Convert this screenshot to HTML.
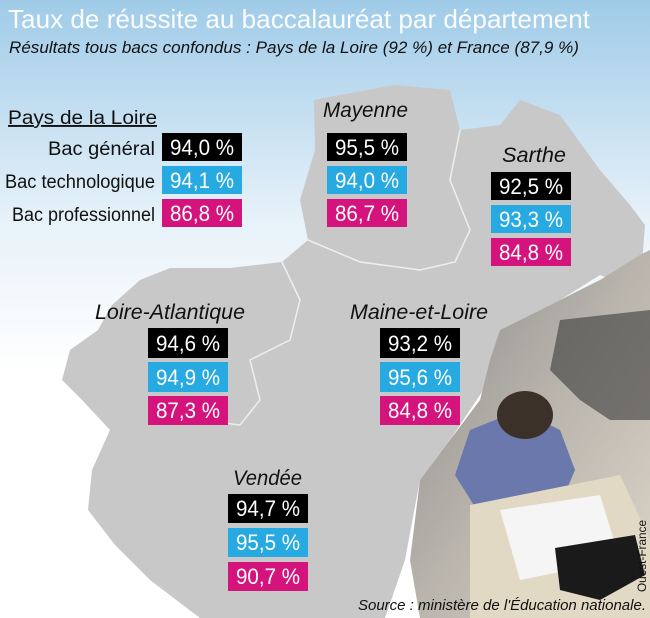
<!DOCTYPE html>
<html><head><meta charset="utf-8"><style>
body{margin:0;width:650px;height:618px;overflow:hidden;background:#fff}
svg{display:block}
text{font-family:"Liberation Sans",sans-serif}
</style></head><body>
<svg width="650" height="618" viewBox="0 0 650 618" xmlns="http://www.w3.org/2000/svg">
<defs>
<linearGradient id="bg" x1="0" y1="0" x2="0" y2="1">
<stop offset="0" stop-color="#9fcbe8"/><stop offset="0.35" stop-color="#e6f1f9"/><stop offset="0.6" stop-color="#ffffff"/></linearGradient>
<linearGradient id="ph" x1="0" y1="0" x2="1" y2="1">
<stop offset="0" stop-color="#8a8a8a"/><stop offset="0.5" stop-color="#b9b4ac"/><stop offset="1" stop-color="#ddd6ca"/></linearGradient>
</defs>
<rect width="650" height="618" fill="url(#bg)"/>
<path d="M314,100 L340,95 L395,85 L450,90 L460,130 L500,125 L520,100 L560,115 L600,170 L630,205 L645,225 L640,290 L600,275 L560,300 L500,330 L490,380 L450,440 L420,480 L405,560 L385,618 L200,618 L150,580 L115,545 L88,510 L92,470 L110,430 L82,400 L62,380 L70,350 L98,330 L112,305 L140,280 L170,268 L230,268 L282,262 L308,240 L300,200 L315,150 Z" fill="#c8c8c8"/>
<path d="M282,262 L300,300 L290,340 L250,360 L260,400 L240,425 L200,420 L150,420 M460,130 L450,180 L470,230 L455,262 L420,270 L360,262 L308,240" stroke="#eee" stroke-width="1.5" fill="none"/>
<path d="M640,255 L650,250 L650,618 L420,618 L410,560 L420,480 L450,440 L480,400 L490,360 L500,330 L560,300 L600,280 Z" fill="url(#ph)"/>
<path d="M560,320 L650,310 L650,420 L610,420 L580,400 L550,370 Z" fill="#3a3a3a" opacity="0.6"/>
<path d="M470,430 L520,410 L560,430 L575,470 L560,505 L480,515 L455,475 Z" fill="#6b78ac"/>
<ellipse cx="525" cy="415" rx="28" ry="24" fill="#3c3128"/>
<path d="M470,505 L620,475 L650,540 L650,618 L470,618 Z" fill="#e2d9c4"/>
<path d="M500,510 L600,495 L620,560 L520,580 Z" fill="#f5f5f5"/>
<path d="M555,548 L635,535 L645,575 L600,600 L560,590 Z" fill="#1a1a1a"/>
<text x="8" y="28" font-size="26" fill="#fafcfe" textLength="582" lengthAdjust="spacingAndGlyphs">Taux de réussite au baccalauréat par département</text>
<text x="9" y="53" font-size="17" font-style="italic" fill="#111" textLength="570" lengthAdjust="spacingAndGlyphs">Résultats tous bacs confondus : Pays de la Loire (92 %) et France (87,9 %)</text>
<text x="8" y="124" font-size="19" fill="#111" text-decoration="underline" textLength="149" lengthAdjust="spacingAndGlyphs">Pays de la Loire</text>
<g font-size="19" fill="#111">
<text x="48" y="155" textLength="107" lengthAdjust="spacingAndGlyphs">Bac général</text>
<text x="5" y="188" textLength="150" lengthAdjust="spacingAndGlyphs">Bac technologique</text>
<text x="12" y="221" textLength="143" lengthAdjust="spacingAndGlyphs">Bac professionnel</text>
</g>
<g font-size="22" fill="#fff">
<rect x="162" y="133" width="80" height="28" fill="#000"/><text x="170" y="155" textLength="64" lengthAdjust="spacingAndGlyphs">94,0 %</text>
<rect x="162" y="166" width="80" height="28" fill="#27a9e1"/><text x="170" y="188" textLength="64" lengthAdjust="spacingAndGlyphs">94,1 %</text>
<rect x="162" y="199" width="80" height="28" fill="#d4147c"/><text x="170" y="221" textLength="64" lengthAdjust="spacingAndGlyphs">86,8 %</text>
<rect x="327" y="133" width="80" height="28" fill="#000"/><text x="335" y="155" textLength="64" lengthAdjust="spacingAndGlyphs">95,5 %</text>
<rect x="327" y="166" width="80" height="28" fill="#27a9e1"/><text x="335" y="188" textLength="64" lengthAdjust="spacingAndGlyphs">94,0 %</text>
<rect x="327" y="199" width="80" height="28" fill="#d4147c"/><text x="335" y="221" textLength="64" lengthAdjust="spacingAndGlyphs">86,7 %</text>
<rect x="491" y="172" width="80" height="28" fill="#000"/><text x="499" y="194" textLength="64" lengthAdjust="spacingAndGlyphs">92,5 %</text>
<rect x="491" y="205" width="80" height="28" fill="#27a9e1"/><text x="499" y="227" textLength="64" lengthAdjust="spacingAndGlyphs">93,3 %</text>
<rect x="491" y="238" width="80" height="28" fill="#d4147c"/><text x="499" y="260" textLength="64" lengthAdjust="spacingAndGlyphs">84,8 %</text>
<rect x="148" y="328" width="80" height="30" fill="#000"/><text x="156" y="351" textLength="64" lengthAdjust="spacingAndGlyphs">94,6 %</text>
<rect x="148" y="362" width="80" height="30" fill="#27a9e1"/><text x="156" y="385" textLength="64" lengthAdjust="spacingAndGlyphs">94,9 %</text>
<rect x="148" y="396" width="80" height="29" fill="#d4147c"/><text x="156" y="418" textLength="64" lengthAdjust="spacingAndGlyphs">87,3 %</text>
<rect x="380" y="328" width="80" height="30" fill="#000"/><text x="388" y="351" textLength="64" lengthAdjust="spacingAndGlyphs">93,2 %</text>
<rect x="380" y="362" width="80" height="30" fill="#27a9e1"/><text x="388" y="385" textLength="64" lengthAdjust="spacingAndGlyphs">95,6 %</text>
<rect x="380" y="396" width="80" height="29" fill="#d4147c"/><text x="388" y="418" textLength="64" lengthAdjust="spacingAndGlyphs">84,8 %</text>
<rect x="228" y="494" width="80" height="29" fill="#000"/><text x="236" y="516" textLength="64" lengthAdjust="spacingAndGlyphs">94,7 %</text>
<rect x="228" y="528" width="80" height="29" fill="#27a9e1"/><text x="236" y="550" textLength="64" lengthAdjust="spacingAndGlyphs">95,5 %</text>
<rect x="228" y="562" width="80" height="29" fill="#d4147c"/><text x="236" y="584" textLength="64" lengthAdjust="spacingAndGlyphs">90,7 %</text>
</g>
<g font-size="21" font-style="italic" fill="#111">
<text x="323" y="117" textLength="85" lengthAdjust="spacingAndGlyphs">Mayenne</text>
<text x="502" y="162" textLength="64" lengthAdjust="spacingAndGlyphs">Sarthe</text>
<text x="95" y="319" textLength="150" lengthAdjust="spacingAndGlyphs">Loire-Atlantique</text>
<text x="350" y="319" textLength="138" lengthAdjust="spacingAndGlyphs">Maine-et-Loire</text>
<text x="233" y="485" textLength="69" lengthAdjust="spacingAndGlyphs">Vendée</text>
</g>
<text x="358" y="610" font-size="15" font-style="italic" fill="#111" textLength="288" lengthAdjust="spacingAndGlyphs">Source : ministère de l'Éducation nationale.</text>
<text transform="translate(646,592) rotate(-90)" font-size="12" fill="#111" textLength="72" lengthAdjust="spacingAndGlyphs">Ouest-France</text>
</svg>
</body></html>
